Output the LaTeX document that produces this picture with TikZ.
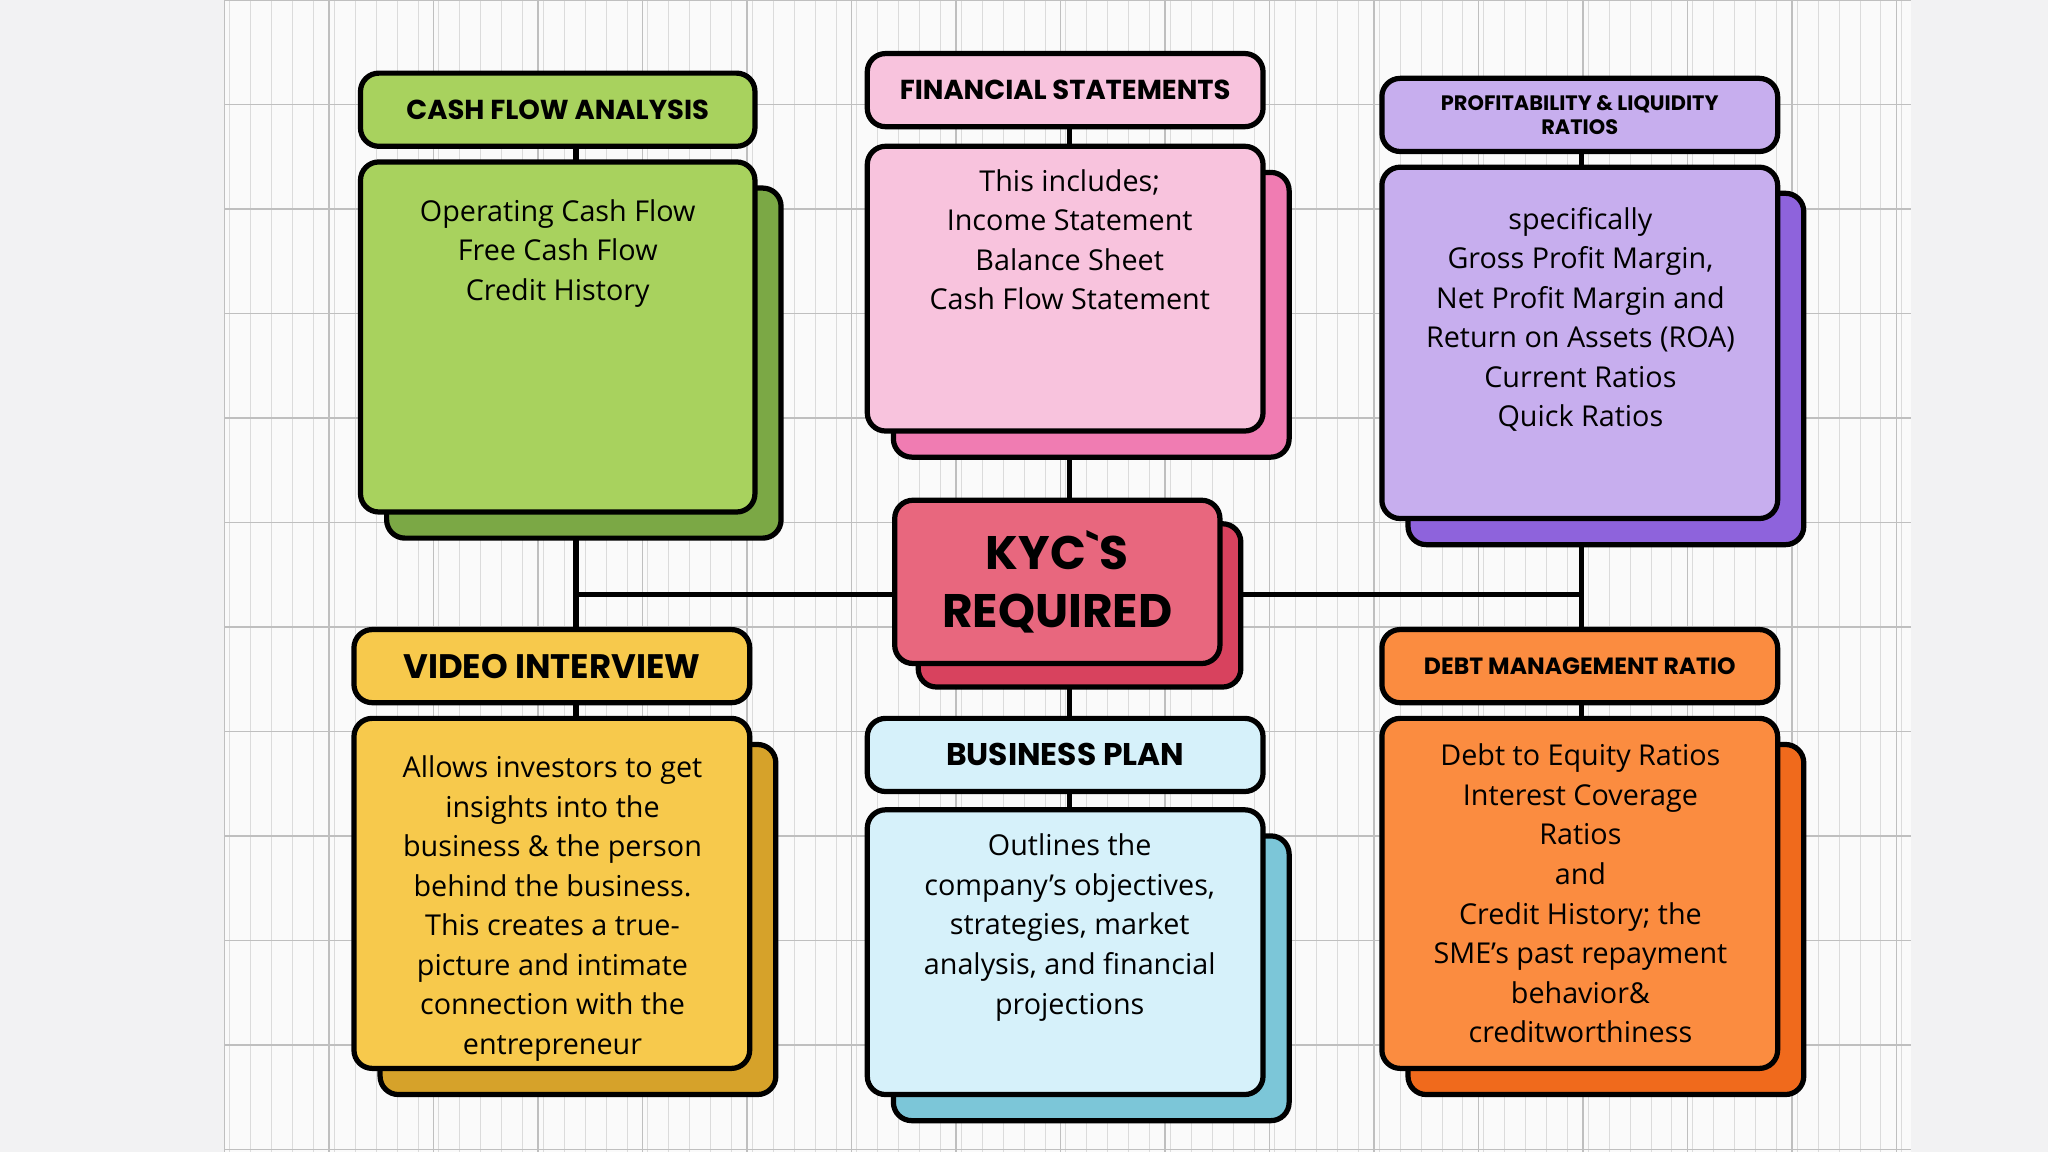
\documentclass[tikz,border=0pt]{standalone}
\usepackage{fontspec}
\setmainfont{Open Sans}
\newfontfamily\hdfont{Poppins}
\definecolor{gA}{HTML}{A8D25E}\definecolor{gB}{HTML}{7BA845}
\definecolor{pA}{HTML}{F8C3DD}\definecolor{pB}{HTML}{F07CB2}
\definecolor{vA}{HTML}{C7AEEE}\definecolor{vB}{HTML}{8E63DC}
\definecolor{kA}{HTML}{E8677E}\definecolor{kB}{HTML}{D8425E}
\definecolor{yA}{HTML}{F7C94C}\definecolor{yB}{HTML}{D6A22A}
\definecolor{cA}{HTML}{D6F1FA}\definecolor{cB}{HTML}{7CC6D8}
\definecolor{oA}{HTML}{FB8C40}\definecolor{oB}{HTML}{F06A1C}
\begin{document}
\begin{tikzpicture}[x=1pt,y=-1pt,
 box/.style={draw=black,line width=4pt,rounded corners=14pt},
 hd/.style={font=\hdfont\bfseries\fontsize{21}{20}\selectfont,align=center},
 bd/.style={font=\fontsize{22}{30.3}\selectfont,align=center,anchor=north},
 ln/.style={line width=4pt}]
\useasboundingbox (0,0) rectangle (1568,882);
\fill[blue!3!gray!10] (0,0) rectangle (1568,882);
\fill[white!96!gray] (172,0) rectangle (1463,882);
\draw[gray!28,line width=0.6pt] (172,0) grid[step=16] (1463,882);
\foreach \x in {172,252,...,1463} \draw[gray!50,line width=1pt] (\x,0)--(\x,882);
\foreach \y in {0,80,...,882} \draw[gray!50,line width=1pt] (172,\y)--(1463,\y);
% connectors (behind)
\coordinate (L) at (441,455); \coordinate (R) at (1211,455);
\draw[ln] (441,392)--(L)--(R)--(1211,397);
\draw[ln] (L)--(441,482); \draw[ln] (R)--(1211,482);
\draw[ln] (819,330)--(819,383); \draw[ln] (819,508)--(819,550);
\draw[ln] (441,112)--(441,124); \draw[ln] (819,97)--(819,112); \draw[ln] (1211,116)--(1211,128);
\draw[ln] (441,538)--(441,550); \draw[ln] (819,606)--(819,620); \draw[ln] (1211,538)--(1211,550);
% Cash flow
\draw[box,fill=gB] (296,144) rectangle (598,412);
\draw[box,fill=gA] (276,124) rectangle (578,392);
\node[bd] (ct) at (427,149) {Operating Cash Flow\\Free Cash Flow\\Credit History};
\draw[box,fill=gA] (276,56) rectangle node[hd](ch){CASH FLOW ANALYSIS} (578,112);
% Financial statements
\draw[box,fill=pB] (684,132) rectangle (987,350);
\draw[box,fill=pA] (664,112) rectangle (967,330);
\node[bd] (ft) at (819,126) {This includes;\\Income Statement\\Balance Sheet\\Cash Flow Statement};
\draw[box,fill=pA] (664,41) rectangle node[hd](fh){FINANCIAL STATEMENTS} (967,97);
% Profitability
\draw[box,fill=vB] (1078,148) rectangle (1381,417);
\draw[box,fill=vA] (1058,128) rectangle (1361,397);
\node[bd] (pt) at (1210,155) {specifically\\Gross Profit Margin,\\Net Profit Margin and\\Return on Assets (ROA)\\Current Ratios\\Quick Ratios};
\draw[box,fill=vA] (1058,60) rectangle node[hd,font=\hdfont\bfseries\fontsize{16}{18}\selectfont](ph){PROFITABILITY \& LIQUIDITY\\RATIOS} (1361,116);
% KYC
\draw[box,fill=kB] (703,401) rectangle (950,526);
\draw[box,fill=kA] (685,383) rectangle node[hd,font=\hdfont\bfseries\fontsize{36}{44}\selectfont](k){KYC`S\\REQUIRED} (934,508);
% Video interview
\draw[box,fill=yB] (291,570) rectangle (594,838);
\draw[box,fill=yA] (271,550) rectangle (574,818);
\node[bd] (vt) at (423,575) {Allows investors to get\\insights into the\\business \& the person\\behind the business.\\This creates a true-\\picture and intimate\\connection with the\\entrepreneur};
\draw[box,fill=yA] (271,482) rectangle node[hd,font=\hdfont\bfseries\fontsize{26}{26}\selectfont](vh){VIDEO INTERVIEW} (574,538);
% Business plan
\draw[box,fill=cB] (684,640) rectangle (987,858);
\draw[box,fill=cA] (664,620) rectangle (967,838);
\node[bd] (bt) at (819,635) {Outlines the\\company's objectives,\\strategies, market\\analysis, and financial\\projections};
\draw[box,fill=cA] (664,550) rectangle node[hd,font=\hdfont\bfseries\fontsize{24}{24}\selectfont](bh){BUSINESS PLAN} (967,606);
% Debt
\draw[box,fill=oB] (1078,570) rectangle (1381,838);
\draw[box,fill=oA] (1058,550) rectangle (1361,818);
\node[bd] (dt) at (1210,566) {Debt to Equity Ratios\\Interest Coverage\\Ratios\\and\\Credit History; the\\SME's past repayment\\behavior\&\\creditworthiness};
\draw[box,fill=oA] (1058,482) rectangle node[hd,font=\hdfont\bfseries\fontsize{18}{18}\selectfont](dh){DEBT MANAGEMENT RATIO} (1361,538);
\end{tikzpicture}
\end{document}
